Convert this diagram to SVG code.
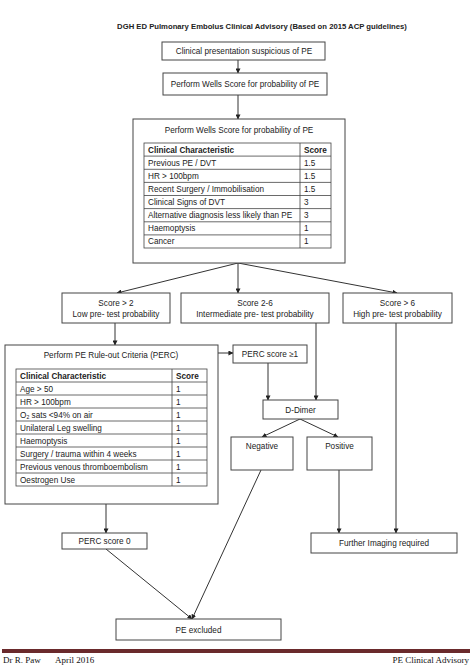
<svg xmlns="http://www.w3.org/2000/svg" width="474" height="668" viewBox="0 0 474 668">
<defs>
<marker id="ah" viewBox="0 0 6 6" refX="5.5" refY="3" markerWidth="5" markerHeight="5" orient="auto" markerUnits="userSpaceOnUse"><path d="M0,0 L6,3 L0,6 z" fill="#222"/></marker>
<style>
text{font-family:"Liberation Sans",Arial,sans-serif;font-size:8.2px;fill:#222}
.t{font-weight:bold;font-size:7.7px}
.b{font-weight:bold}
.box{fill:#fff;stroke:#444;stroke-width:1}
.tb{fill:none;stroke:#444;stroke-width:0.8}
.c{text-anchor:middle}
.ln{fill:none;stroke:#333;stroke-width:1}
.ar{fill:none;stroke:#333;stroke-width:1;marker-end:url(#ah)}
.ft{font-family:"Liberation Serif","Times New Roman",serif;font-size:9px;fill:#111}
</style>
</defs>
<rect width="474" height="668" fill="#fff"/>
<text class="t c" x="262" y="29">DGH ED Pulmonary Embolus Clinical Advisory (Based on 2015 ACP guidelines)</text>

<g id="connectors">
<line class="ar" x1="238" y1="60" x2="238" y2="73"/>
<line class="ar" x1="238" y1="95" x2="238" y2="119"/>
<line class="ar" x1="238" y1="263" x2="117" y2="293"/>
<line class="ar" x1="238" y1="263" x2="238" y2="293"/>
<line class="ar" x1="238" y1="263" x2="397" y2="293"/>
<line class="ar" x1="115" y1="323" x2="115" y2="345"/>
<line class="ar" x1="218" y1="353" x2="233" y2="353"/>
<line class="ar" x1="268" y1="363" x2="268" y2="400"/>
<line class="ar" x1="316" y1="323" x2="316" y2="400"/>
<line class="ar" x1="300" y1="419" x2="262" y2="437"/>
<line class="ar" x1="300" y1="419" x2="338" y2="437"/>
<line class="ar" x1="339" y1="470" x2="339" y2="533"/>
<line class="ar" x1="396" y1="323" x2="396" y2="533"/>
<line class="ar" x1="106" y1="504" x2="106" y2="533"/>
<line class="ar" x1="106" y1="549" x2="192" y2="619"/>
<line class="ar" x1="261" y1="470" x2="192" y2="619"/>
</g>

<g id="n-clinical">
<rect class="box" x="162" y="42" width="163" height="18"/>
<text class="c" x="244" y="54">Clinical presentation suspicious of PE</text>
</g>
<g id="n-wells">
<rect class="box" x="163" y="73" width="164" height="22"/>
<text class="c" x="245" y="87">Perform Wells Score for probability of PE</text>
</g>

<g id="n-wells-table">
<rect class="box" x="133" y="119" width="212" height="144"/>
<text class="c" x="239" y="132.5">Perform Wells Score for probability of PE</text>
<rect class="tb" x="144" y="143" width="187" height="105"/>
<line class="tb" x1="300" y1="143" x2="300" y2="248"/>
<path class="tb" d="M144,156.1H331M144,169.3H331M144,182.4H331M144,195.5H331M144,208.6H331M144,221.8H331M144,234.9H331"/>
<text class="b" x="148" y="152.5">Clinical Characteristic</text><text class="b" x="304" y="152.5">Score</text>
<text x="148" y="165.6">Previous PE / DVT</text><text x="304" y="165.6">1.5</text>
<text x="148" y="178.8">HR &gt; 100bpm</text><text x="304" y="178.8">1.5</text>
<text x="148" y="191.9">Recent Surgery / Immobilisation</text><text x="304" y="191.9">1.5</text>
<text x="148" y="205">Clinical Signs of DVT</text><text x="304" y="205">3</text>
<text x="148" y="218.1">Alternative diagnosis less likely than PE</text><text x="304" y="218.1">3</text>
<text x="148" y="231.3">Haemoptysis</text><text x="304" y="231.3">1</text>
<text x="148" y="244.4">Cancer</text><text x="304" y="244.4">1</text>
</g>

<g id="n-low">
<rect class="box" x="62" y="293" width="108" height="30"/>
<text class="c" x="116" y="305.5">Score &gt; 2</text>
<text class="c" x="116" y="316.5">Low pre- test probability</text>
</g>
<g id="n-int">
<rect class="box" x="181" y="293" width="148" height="30"/>
<text class="c" x="255" y="305.5">Score 2-6</text>
<text class="c" x="255" y="316.5">Intermediate pre- test probability</text>
</g>
<g id="n-high">
<rect class="box" x="343" y="293" width="109" height="30"/>
<text class="c" x="397.5" y="305.5">Score &gt; 6</text>
<text class="c" x="397.5" y="316.5">High pre- test probability</text>
</g>

<g id="n-perc">
<rect class="box" x="5" y="345" width="213" height="159"/>
<text class="c" x="111" y="358">Perform PE Rule-out Criteria (PERC)</text>
<rect class="tb" x="16" y="369" width="191" height="117"/>
<line class="tb" x1="172" y1="369" x2="172" y2="486"/>
<path class="tb" d="M16,382H207M16,395H207M16,408H207M16,421H207M16,434H207M16,447H207M16,460H207M16,473H207"/>
<text class="b" x="20" y="378.5">Clinical Characteristic</text><text class="b" x="176" y="378.5">Score</text>
<text x="20" y="391.5">Age &gt; 50</text><text x="176" y="391.5">1</text>
<text x="20" y="404.5">HR &gt; 100bpm</text><text x="176" y="404.5">1</text>
<text x="20" y="417.5">O<tspan font-size="5.2" dy="1.5">2</tspan><tspan dy="-1.5"> sats &lt;94% on air</tspan></text><text x="176" y="417.5">1</text>
<text x="20" y="430.5">Unilateral Leg swelling</text><text x="176" y="430.5">1</text>
<text x="20" y="443.5">Haemoptysis</text><text x="176" y="443.5">1</text>
<text x="20" y="456.5">Surgery / trauma within 4 weeks</text><text x="176" y="456.5">1</text>
<text x="20" y="469.5">Previous venous thromboembolism</text><text x="176" y="469.5">1</text>
<text x="20" y="482.5">Oestrogen Use</text><text x="176" y="482.5">1</text>
</g>

<g id="n-perc1">
<rect class="box" x="233" y="345" width="74" height="18"/>
<text class="c" x="270" y="357">PERC score ≥1</text>
</g>
<g id="n-ddimer">
<rect class="box" x="263" y="400" width="75" height="19"/>
<text class="c" x="300.5" y="412.5">D-Dimer</text>
</g>
<g id="n-neg">
<rect class="box" x="231" y="437" width="62" height="33"/>
<text class="c" x="262" y="449">Negative</text>
</g>
<g id="n-pos">
<rect class="box" x="307" y="437" width="65" height="33"/>
<text class="c" x="339.5" y="449">Positive</text>
</g>
<g id="n-perc0">
<rect class="box" x="62" y="533" width="85" height="16"/>
<text class="c" x="104.5" y="544">PERC score 0</text>
</g>
<g id="n-imaging">
<rect class="box" x="311" y="533" width="146" height="20"/>
<text class="c" x="384" y="545.5">Further Imaging required</text>
</g>
<g id="n-excluded">
<rect class="box" x="116" y="619" width="165" height="21"/>
<text class="c" x="198.5" y="632.5">PE excluded</text>
</g>

<g id="footer">
<rect x="2" y="649" width="468" height="4" fill="#6a2a2c"/>
<text class="ft" x="3" y="663">Dr R. Paw</text>
<text class="ft" x="55" y="663">April 2016</text>
<text class="ft" x="469" y="663" text-anchor="end">PE Clinical Advisory</text>
</g>
</svg>
